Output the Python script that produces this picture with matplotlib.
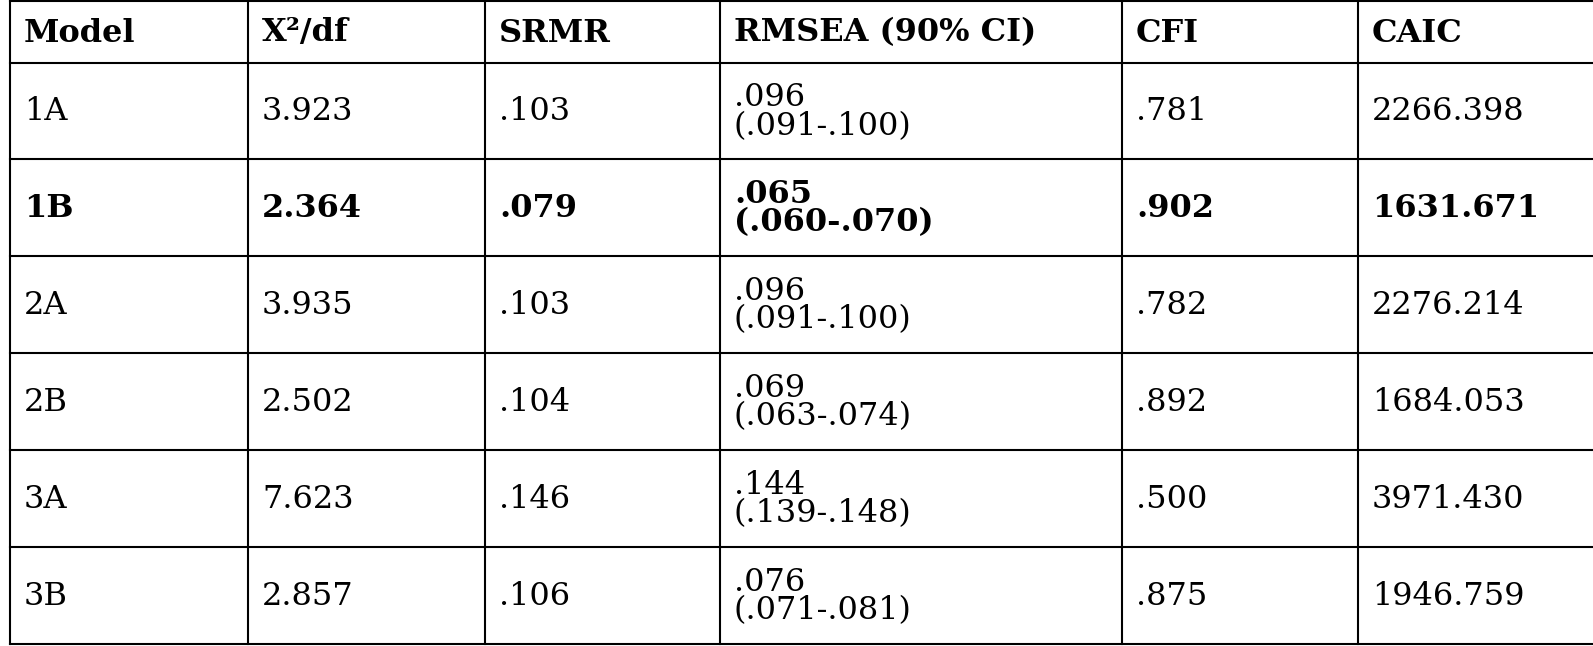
import matplotlib
matplotlib.use("Agg")
import matplotlib.pyplot as plt

headers = ["Model", "X²/df", "SRMR", "RMSEA (90% CI)", "CFI", "CAIC"]
models = ["1A", "1B", "2A", "2B", "3A", "3B"]
chi_df = ["3.923", "2.364", "3.935", "2.502", "7.623", "2.857"]
srmr = [".103", ".079", ".103", ".104", ".146", ".106"]
rmsea = [".096", ".065", ".096", ".069", ".144", ".076"]
rmsea_ci = ["(.091-.100)", "(.060-.070)", "(.091-.100)", "(.063-.074)", "(.139-.148)", "(.071-.081)"]
cfi = [".781", ".902", ".782", ".892", ".500", ".875"]
caic = ["2266.398", "1631.671", "2276.214", "1684.053", "3971.430", "1946.759"]
bold_rows = ["1B"]

W, H = 1593, 646
fig = plt.figure(figsize=(W/100, H/100), dpi=100)
ax = fig.add_axes([0, 0, 1, 1])
ax.set_xlim(0, W); ax.set_ylim(H, 0); ax.axis("off")

xs = [10, 248, 485, 720, 1122, 1358, 1595]
ys = [1, 63, 159, 256, 353, 450, 547, 644]
for x in xs:
    ax.plot([x, x], [ys[0], ys[-1]], color="black", lw=1.5)
for y in ys:
    ax.plot([xs[0], xs[-1]], [y, y], color="black", lw=1.5)

font = "DejaVu Serif"
fs = 23
for j, h in enumerate(headers):
    ax.text(xs[j] + 14, (ys[0] + ys[1]) / 2 + 1, h, fontsize=fs, fontweight="bold",
            family=font, va="center", ha="left")

for i, m in enumerate(models):
    cy = (ys[i+1] + ys[i+2]) / 2 + 1
    w = "bold" if m in bold_rows else "normal"
    cells = [m, chi_df[i], srmr[i], rmsea[i] + "\n" + rmsea_ci[i], cfi[i], caic[i]]
    for j, c in enumerate(cells):
        ax.text(xs[j] + 14, cy, c, fontsize=fs, fontweight=w, family=font,
                va="center", ha="left", linespacing=0.9)

fig.savefig("out.png", dpi=100)
